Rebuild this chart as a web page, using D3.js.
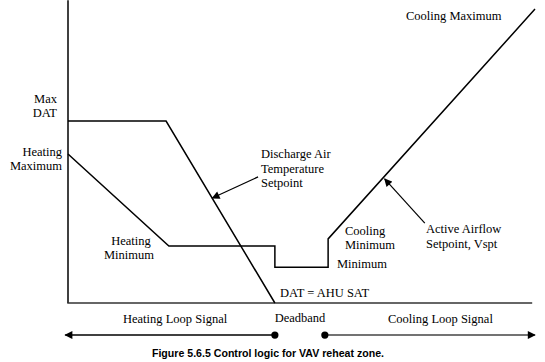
<!DOCTYPE html>
<html>
<head>
<meta charset="utf-8">
<script src="https://cdn.jsdelivr.net/npm/d3@7"></script>
<style>
  body { margin: 0; background: #fff; }
  svg text { font-family: "Liberation Serif", "Times New Roman", serif; font-size: 12.5px; fill: #000; }
  .caption { font-family: "Liberation Sans", Arial, sans-serif; font-size: 10.6px; font-weight: bold; }
</style>
</head>
<body>
<div id="chart"></div>
<script>
// control signal (0-100 across the plot) and output (0-100 up the plot)
var airflowX = [0, 21.6, 44.3, 44.3, 55.7, 55.7, 100];
var airflowY = [50.7, 19.4, 19.4, 12.2, 12.2, 21.8, 100];

var datX = [0, 21.0, 44.3];
var datY = [61.9, 61.9, 0];

// loop signal bar under the axis
var loopY = -10.9;
var heatLoopX = [-0.6, 44.3];
var coolLoopX = [55.0, 100];

var svgWidth = 545;
var svgHeight = 362;

var x = d3.scaleLinear().domain([0, 100]).range([68, 535]);
var y = d3.scaleLinear().domain([0, 100]).range([303, 9]);

var svg = d3.select("#chart")
  .append("svg")
  .attr("width", svgWidth)
  .attr("height", svgHeight);

var defs = svg.append("defs");
defs.append("marker")
  .attr("id", "head")
  .attr("viewBox", "0 0 10 10")
  .attr("refX", 9)
  .attr("refY", 5)
  .attr("markerUnits", "userSpaceOnUse")
  .attr("markerWidth", 9)
  .attr("markerHeight", 8)
  .attr("orient", "auto")
  .append("path")
  .attr("d", "M0,0L10,5L0,10z")
  .attr("fill", "#000");

// axes
svg.append("line")
  .attr("x1", x(0)).attr("y1", y(103))
  .attr("x2", x(0)).attr("y2", y(0))
  .attr("stroke", "#000").attr("stroke-width", 1.5);

svg.append("line")
  .attr("x1", x(0) - 0.75).attr("y1", y(0))
  .attr("x2", x(99.4)).attr("y2", y(0))
  .attr("stroke", "#333").attr("stroke-width", 1.5);

var line = d3.line()
  .x(function(d) { return x(d[0]); })
  .y(function(d) { return y(d[1]); });

svg.append("path")
  .datum(d3.zip(airflowX, airflowY))
  .attr("d", line)
  .attr("fill", "none")
  .attr("stroke", "#000")
  .attr("stroke-width", 1.5);

svg.append("path")
  .datum(d3.zip(datX, datY))
  .attr("d", line)
  .attr("fill", "none")
  .attr("stroke", "#000")
  .attr("stroke-width", 1.5);

// callout arrows
var callouts = [
  [[40.7, 42.9], [30.9, 35.7]],
  [[76.4, 27.2], [67.8, 42.2]]
];
callouts.forEach(function(c) {
  svg.append("path")
    .datum(c)
    .attr("d", line)
    .attr("stroke", "#000")
    .attr("stroke-width", 1.2)
    .attr("marker-end", "url(#head)");
});

// loop signal arrows
svg.append("path")
  .datum([[heatLoopX[1], loopY], [heatLoopX[0], loopY]])
  .attr("d", line)
  .attr("stroke", "#000")
  .attr("stroke-width", 1.5)
  .attr("marker-end", "url(#head)");

svg.append("path")
  .datum([[coolLoopX[0], loopY], [coolLoopX[1], loopY]])
  .attr("d", line)
  .attr("stroke", "#444")
  .attr("stroke-width", 1.5)
  .attr("marker-end", "url(#head)");

svg.selectAll("circle.dot")
  .data([heatLoopX[1], coolLoopX[0]])
  .enter().append("circle")
  .attr("class", "dot")
  .attr("cx", function(d) { return x(d); })
  .attr("cy", y(loopY))
  .attr("r", 3.6)
  .attr("fill", "#000");

// labels
var labels = [
  ["Max", 57, 103, "end"],
  ["DAT", 57, 117, "end"],
  ["Heating", 62, 156, "end"],
  ["Maximum", 62, 170, "end"],
  ["Discharge Air", 261, 158, "start"],
  ["Temperature", 261, 173, "start"],
  ["Setpoint", 261, 187, "start"],
  ["Heating", 131, 245, "middle"],
  ["Minimum", 129, 259, "middle"],
  ["Cooling", 345, 235, "start"],
  ["Minimum", 345, 249, "start"],
  ["Minimum", 337, 268, "start"],
  ["Active Airflow", 426, 233, "start"],
  ["Setpoint, Vspt", 426, 248, "start"],
  ["DAT = AHU SAT", 280, 297, "start"],
  ["Cooling Maximum", 406, 20, "start"],
  ["Heating Loop Signal", 123, 323, "start"],
  ["Deadband", 300, 322, "middle"],
  ["Cooling Loop Signal", 388, 323, "start"]
];

svg.selectAll("text.lbl")
  .data(labels)
  .enter().append("text")
  .attr("class", "lbl")
  .attr("x", function(d) { return d[1]; })
  .attr("y", function(d) { return d[2]; })
  .attr("text-anchor", function(d) { return d[3]; })
  .text(function(d) { return d[0]; });

svg.append("text")
  .attr("class", "caption")
  .attr("x", 268)
  .attr("y", 357)
  .attr("text-anchor", "middle")
  .text("Figure 5.6.5 Control logic for VAV reheat zone.");
</script>
</body>
</html>
